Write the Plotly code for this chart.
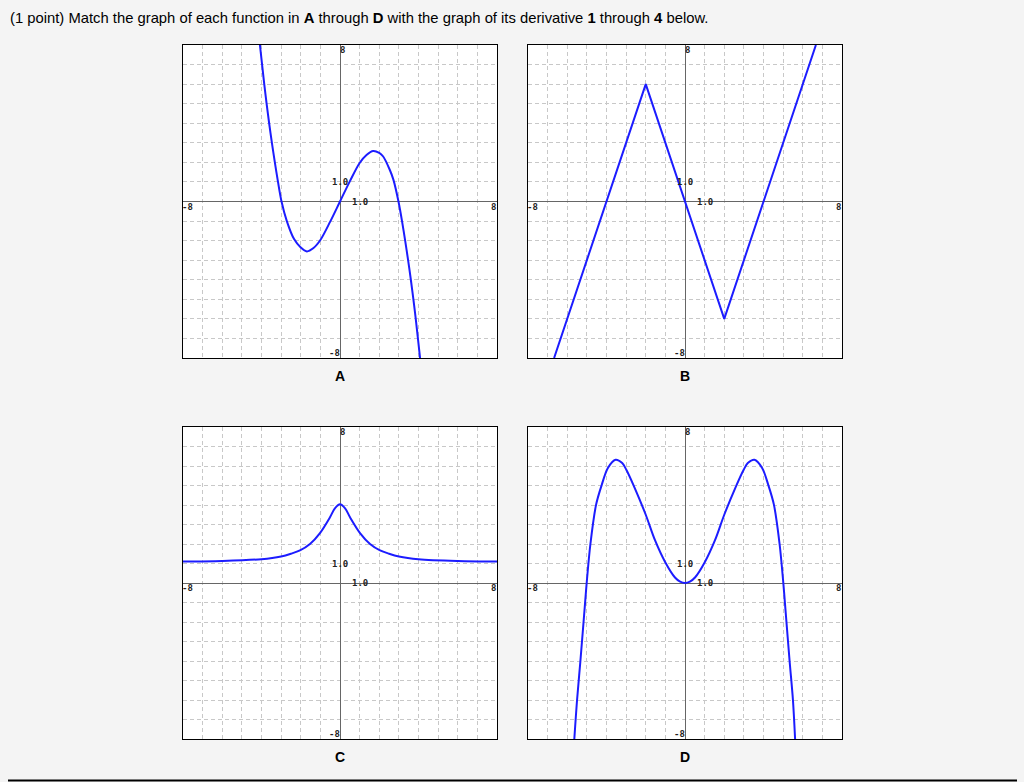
import plotly.graph_objects as go

# values (x, y in graph units)
a_x = [-4.08, -3.97, -3.86, -3.74, -3.61, -3.47, -3.32, -3.16, -2.98, -2.71, -2.34, -2.0, -1.69,
       -1.35, -1.0, -0.5, 0.0, 0.5, 1.0, 1.35, 1.69, 2.0, 2.2, 2.54, 2.72, 2.98, 3.16, 3.32,
       3.47, 3.61, 3.74, 3.86, 3.97, 4.08]
a_y = [8.0, 7.0, 6.0, 5.0, 4.0, 3.0, 2.0, 1.0, 0.0, -1.0, -1.92, -2.35, -2.55,
       -2.38, -1.97, -1.03, 0.0, 1.03, 1.97, 2.38, 2.58, 2.48, 2.3, 1.61, 1.12, 0.0, -1.0, -2.0,
       -3.0, -4.0, -5.0, -6.0, -7.0, -8.0]

b_x = [-6.67, -2.0, 2.0, 6.67]
b_y = [-8.0, 6.0, -6.0, 8.0]

c_x = [-8, -6, -4, -3, -2.5, -2.04, -1.53, -1.02, -0.51, -0.26, 0,
       0.26, 0.51, 1.02, 1.53, 2.04, 2.5, 3, 4, 6, 8]
c_y = [1.1, 1.13, 1.22, 1.36, 1.5, 1.67, 2.0, 2.56, 3.37, 3.83, 4.04,
       3.83, 3.37, 2.56, 2.0, 1.67, 1.5, 1.36, 1.22, 1.13, 1.1]

d_x = [-5.64, -5.5, -5.33, -5.09, -5.01, -4.82, -4.53, -4.24, -3.93, -3.54, -3.2, -2.99, -2.56,
       -2.0, -1.54, -1.0, -0.51, -0.25, 0.0, 0.25, 0.51, 1.0, 1.54, 2.0, 2.56, 2.99, 3.2, 3.54,
       3.93, 4.24, 4.53, 4.82, 5.01, 5.09, 5.33, 5.5, 5.61]
d_y = [-8.0, -6.0, -4.0, -1.0, 0.0, 2.0, 4.02, 5.04, 5.9, 6.32, 6.15, 5.81, 4.87,
       3.5, 2.22, 1.05, 0.28, 0.07, 0.0, 0.07, 0.28, 1.05, 2.22, 3.5, 4.87, 5.81, 6.15, 6.32,
       5.9, 5.04, 4.02, 2.0, 0.0, -1.0, -4.0, -6.0, -8.0]

panel_names = ["A", "B", "C", "D"]
series = [(a_x, a_y, "spline"), (b_x, b_y, "linear"), (c_x, c_y, "spline"), (d_x, d_y, "spline")]

# axis labels drawn on each graph: (text, x, y)
axis_labels = [("8", 0.15, 7.72), ("-8", -0.3, -7.72), ("-8", -7.75, -0.27),
               ("8", 7.8, -0.27), ("1.0", 0.0, 1.0), ("1.0", 1.0, 0.0)]

W, H = 1024, 782
# panel boxes in pixels: left, right, top, bottom
boxes = [(183, 497, 45, 358), (528, 842, 45, 358),
         (183, 497, 427, 739), (528, 842, 427, 739)]

fig = go.Figure()
annotations = []

for i, (name, (xs, ys, shape), box) in enumerate(zip(panel_names, series, boxes)):
    n = "" if i == 0 else str(i + 1)
    l, r, t, b = box
    fig.add_trace(go.Scatter(
        x=xs, y=ys, mode="lines",
        line=dict(color="#1c1cff", width=2, shape=shape, smoothing=0.9),
        xaxis="x" + n, yaxis="y" + n, showlegend=False, hoverinfo="skip"))
    ax_common = dict(range=[-8, 8], dtick=1, tick0=0, showgrid=True, gridcolor="#c8c8c8",
                     griddash="4px,3px", gridwidth=1, zeroline=True, zerolinecolor="#666666",
                     zerolinewidth=1, showline=True, linecolor="black", linewidth=1, mirror=True,
                     showticklabels=False, ticks="", fixedrange=True)
    fig.update_layout(**{
        "xaxis" + n: dict(domain=[l / W, r / W], anchor="y" + n, **ax_common),
        "yaxis" + n: dict(domain=[1 - b / H, 1 - t / H], anchor="x" + n, **ax_common),
    })
    for txt, lx, ly in axis_labels:
        annotations.append(dict(text="<b>" + txt + "</b>", x=lx, y=ly, xref="x" + n, yref="y" + n,
                                showarrow=False, xanchor="center", yanchor="middle",
                                font=dict(family="DejaVu Sans Mono", size=9, color="#222222")))
    annotations.append(dict(text="<b>" + name + "</b>", x=(l + r) / 2 / W, y=1 - (b + 18) / H,
                            xref="paper", yref="paper", showarrow=False,
                            xanchor="center", yanchor="middle",
                            font=dict(family="Liberation Sans", size=14, color="black")))

annotations.append(dict(
    text="(1 point) Match the graph of each function in <b>A</b> through <b>D</b> with the graph "
         "of its derivative <b>1</b> through <b>4</b> below.",
    x=8 / W, y=1 - 18 / H, xref="paper", yref="paper", showarrow=False,
    xanchor="left", yanchor="middle",
    font=dict(family="Liberation Sans", size=14.8, color="black")))

fig.update_layout(
    width=W, height=H, margin=dict(l=0, r=0, t=0, b=0),
    paper_bgcolor="#f4f4f4", plot_bgcolor="white",
    annotations=annotations,
    shapes=[dict(type="line", xref="paper", yref="paper", x0=8 / W, x1=1017 / W,
                 y0=1 - 780.5 / H, y1=1 - 780.5 / H, line=dict(color="black", width=2))],
)

# drop the page's default margin so the figure sits at the window corner
fig.write_html("out.html", config={"displayModeBar": False},
               post_script="document.body.style.margin='0';document.body.style.background='#f4f4f4';")
